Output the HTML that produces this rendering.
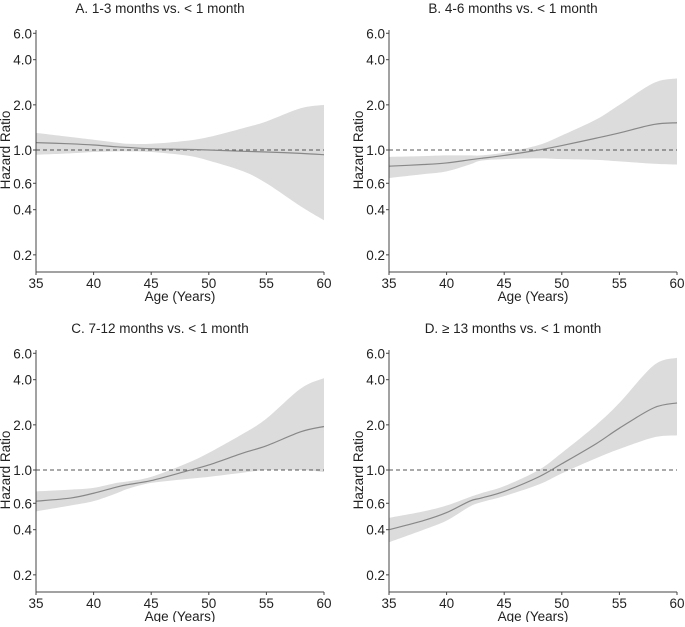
<!DOCTYPE html>
<html><head><meta charset="utf-8"><style>
body{margin:0;background:#fff;}
svg text{font-family:"Liberation Sans",sans-serif;fill:#222;}
</style></head><body>
<svg id="chart" width="685" height="622"></svg>
<script>
const ages=[35,38,40,42,43,45,48,50,53,55,58,60];
const estA=[1.12,1.10,1.08,1.05,1.04,1.02,1.01,1.0,0.98,0.97,0.95,0.93];
const lowA=[0.93,0.95,0.97,0.98,0.98,0.97,0.92,0.85,0.72,0.6,0.42,0.34];
const upA=[1.3,1.22,1.17,1.12,1.1,1.1,1.15,1.22,1.4,1.55,1.9,2.0];
const estB=[0.78,0.8,0.82,0.86,0.88,0.92,1.0,1.07,1.2,1.3,1.48,1.52];
const lowB=[0.65,0.69,0.72,0.8,0.85,0.87,0.88,0.87,0.86,0.84,0.81,0.8];
const upB=[0.9,0.91,0.92,0.92,0.92,0.96,1.08,1.25,1.6,2.0,2.8,3.0];
const estC=[0.62,0.65,0.7,0.77,0.8,0.85,0.98,1.08,1.3,1.45,1.8,1.95];
const lowC=[0.53,0.58,0.62,0.7,0.75,0.82,0.87,0.9,0.96,1.0,1.0,0.97];
const upC=[0.72,0.74,0.76,0.82,0.84,0.9,1.1,1.3,1.75,2.2,3.5,4.1];
const estD=[0.4,0.46,0.52,0.62,0.65,0.72,0.9,1.1,1.5,1.9,2.6,2.8];
const lowD=[0.33,0.4,0.46,0.57,0.61,0.67,0.8,0.95,1.2,1.38,1.65,1.7];
const upD=[0.48,0.53,0.58,0.66,0.7,0.78,1.0,1.3,2.0,2.8,5.0,5.6];
const titles=["A. 1-3 months vs. < 1 month","B. 4-6 months vs. < 1 month","C. 7-12 months vs. < 1 month","D.  \u2265 13 months vs. < 1 month"];
const yTicks=[0.2,0.4,0.6,1.0,2.0,4.0,6.0];
const xTicks=[35,40,45,50,55,60];
const panels=[[estA,lowA,upA],[estB,lowB,upB],[estC,lowC,upC],[estD,lowD,upD]];
const svg=document.getElementById('chart');
const NS='http://www.w3.org/2000/svg';
function mk(t,a,p){const e=document.createElementNS(NS,t);for(const k in a)e.setAttribute(k,a[k]);(p||svg).appendChild(e);return e;}
function smooth(p,start){
  let s=start?'M'+p[0][0]+','+p[0][1]:'L'+p[0][0]+','+p[0][1];
  for(let i=0;i<p.length-1;i++){
    const p0=p[Math.max(0,i-1)],p1=p[i],p2=p[i+1],p3=p[Math.min(p.length-1,i+2)];
    const c1=[p1[0]+(p2[0]-p0[0])/6,p1[1]+(p2[1]-p0[1])/6];
    const c2=[p2[0]-(p3[0]-p1[0])/6,p2[1]-(p3[1]-p1[1])/6];
    s+=` C${c1[0]},${c1[1]} ${c2[0]},${c2[1]} ${p2[0]},${p2[1]}`;
  }
  return s;
}
const origins=[[36,150],[389,150],[36,470],[389,470]];
panels.forEach((d,i)=>{
  const [ox,oy]=origins[i];
  const xs=v=>ox+(v-35)/25*288;
  const ys=v=>oy-Math.log10(v)*150;
  const g=mk('g',{});
  
  
  const t=mk('text',{x:ox+124,y:oy-137,'text-anchor':'middle','font-size':13.5},g);
  t.textContent=titles[i];
  
  
  const up=ages.map((a,j)=>[xs(a),ys(d[2][j])]);
  const lo=ages.map((a,j)=>[xs(a),ys(d[1][j])]).reverse();
  const band=mk('path',{d:smooth(up,true)+' '+smooth(lo,false)+' Z',fill:'#dcdcdc'},g);
  
  
  const ref=mk('line',{x1:ox,x2:ox+288,y1:ys(1),y2:ys(1),stroke:'#555','stroke-dasharray':'4,3','stroke-width':1},g);
  
  
  const ln=mk('path',{d:smooth(ages.map((a,j)=>[xs(a),ys(d[0][j])]),true),fill:'none',stroke:'#888','stroke-width':1.2},g);
  
  
  const ya=mk('line',{x1:ox,x2:ox,y1:oy-120,y2:oy+122,stroke:'#444','stroke-width':1},g);
  
  
  const xa=mk('line',{x1:ox,x2:ox+288,y1:oy+122,y2:oy+122,stroke:'#444','stroke-width':1},g);
  
  
  yTicks.forEach(v=>{
    mk('line',{x1:ox-3,x2:ox,y1:ys(v),y2:ys(v),stroke:'#444'},g);
    const tl=mk('text',{x:ox-4,y:ys(v)+5,'text-anchor':'end','font-size':13.5},g);
    tl.textContent=v.toFixed(1);
    
    
  });
  xTicks.forEach(v=>{
    mk('line',{x1:xs(v),x2:xs(v),y1:oy+122,y2:oy+125,stroke:'#444'},g);
    const tl=mk('text',{x:xs(v),y:oy+138,'text-anchor':'middle','font-size':13.5},g);
    tl.textContent=v;
    
    
  });
  const xt=mk('text',{x:ox+144,y:oy+151,'text-anchor':'middle','font-size':13.5},g);
  xt.textContent='Age (Years)';
  
  
  const yt=mk('text',{x:0,y:0,'text-anchor':'middle','font-size':13.5,transform:`translate(${ox-26},${oy}) rotate(-90)`},g);
  yt.textContent='Hazard Ratio';
  
  
});
</script>
</body></html>
